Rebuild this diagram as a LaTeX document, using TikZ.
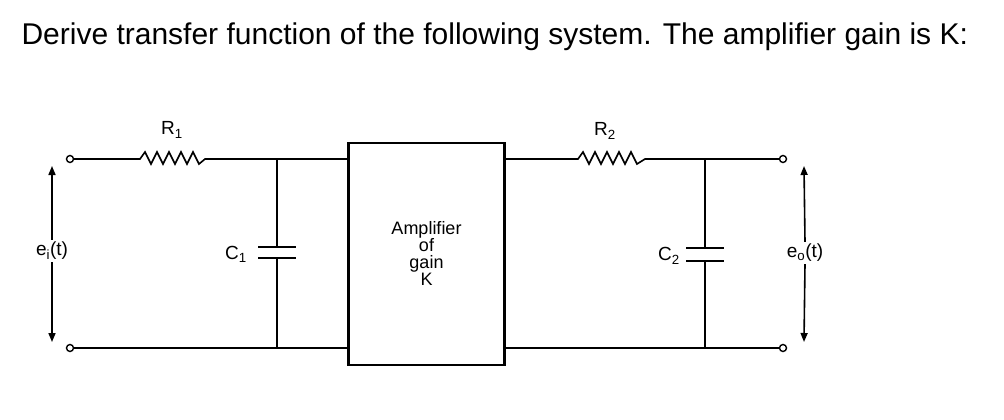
\documentclass[tikz,border=0pt]{standalone}
\usepackage{fontspec}
\setmainfont{Liberation Sans}
\usetikzlibrary{arrows.meta}
\begin{document}
\begin{tikzpicture}[x=1pt,y=-1pt,
 wire/.style={line width=1.6pt},
 term/.style={circle,draw,line width=1.4pt,fill=white,inner sep=0pt,minimum size=7pt},
 plate/.style={line width=2.2pt},
 lbl/.style={font=\fontsize{19}{22}\selectfont},
 volt/.style={line width=1.6pt,-{Triangle[length=9pt,width=7pt]}}]
\useasboundingbox (0,0) rectangle (1004,420);
\node[anchor=west,font=\fontsize{30}{34}\selectfont] (title) at (18,37) {Derive transfer function of the following system. The amplifier gain is K:};
% amplifier box
\node[draw,line width=2.4pt,minimum width=156pt,minimum height=222pt,inner sep=0pt] (amp) at (426.5,254) {};
\node[align=center,font=\fontsize{18}{17}\selectfont] (amptxt) at (426.5,253) {Amplifier\\of\\gain\\K};
% terminals
\node[term] (t1) at (70,159) {};
\node[term] (t2) at (70,348) {};
\node[term] (t3) at (783,159) {};
\node[term] (t4) at (783,348) {};
\coordinate (a1) at (348,159);
\coordinate (a2) at (348,348);
\coordinate (b1) at (505,159);
\coordinate (b2) at (505,348);
\coordinate (c1) at (277,159);
\coordinate (c1b) at (277,348);
\coordinate (c2) at (705,159);
\coordinate (c2b) at (705,348);
% left network
\draw[wire] (t1) -- (140,159) -- (145,152) -- (151,164) -- (157,152) -- (163,164) -- (169,152) -- (175,164) -- (181,152) -- (187,164) -- (193,152) -- (199,164) -- (205,159) -- (a1);
\draw[wire] (t2) -- (a2);
\draw[wire] (c1) -- (277,247) (277,258) -- (c1b);
\draw[plate] (258,247) -- (296,247) (258,258) -- (296,258);
% right network
\draw[wire] (b1) -- (578,159) -- (583,152) -- (589,164) -- (595,152) -- (601,164) -- (607,152) -- (613,164) -- (619,152) -- (625,164) -- (631,152) -- (637,164) -- (645,159) -- (t3);
\draw[wire] (b2) -- (t4);
\draw[wire] (c2) -- (705,248) (705,261) -- (c2b);
\draw[plate] (686,248) -- (724,248) (686,261) -- (724,261);
% labels
\node[lbl] (r1) at (172,130) {R\textsubscript{1}};
\node[lbl] (r2) at (605,131) {R\textsubscript{2}};
\node[lbl] (lc1) at (236,254) {C\textsubscript{1}};
\node[lbl] (lc2) at (669,256) {C\textsubscript{2}};
\node[lbl,inner sep=2pt] (ei) at (52,251) {e\textsubscript{i}(t)};
\node[lbl,inner sep=2pt] (eo) at (805,253) {e\textsubscript{o}(t)};
\coordinate (ea) at (52,166); \coordinate (eb) at (52,342);
\coordinate (oa) at (804,166); \coordinate (ob) at (804,342);
\draw[volt] (ei.north) -- (ea);
\draw[volt] (ei.south) -- (eb);
\draw[volt] (eo.north) -- (oa);
\draw[volt] (eo.south) -- (ob);
\end{tikzpicture}
\end{document}
